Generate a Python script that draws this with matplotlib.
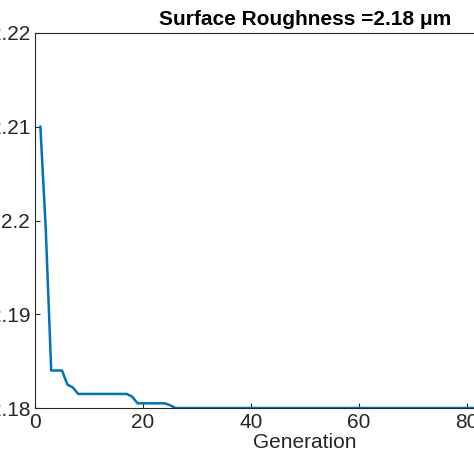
import matplotlib
matplotlib.use('Agg')
from matplotlib import pyplot as plt
import numpy as np

plt.rcParams['font.family'] = ['Liberation Sans', 'DejaVu Sans']

# best fitness per generation
generations = np.arange(1, 101)
fitness = [2.2100, 2.1990, 2.1840, 2.1840, 2.1840, 2.1825, 2.1822, 2.1815, 2.1815, 2.1815,
           2.1815, 2.1815, 2.1815, 2.1815, 2.1815, 2.1815, 2.1815, 2.1812, 2.1805, 2.1805,
           2.1805, 2.1805, 2.1805, 2.1805, 2.1803] + [2.1800] * 75
y_ticks = [2.18, 2.19, 2.20, 2.21, 2.22]
y_labels = ['2.18', '2.19', '2.2', '2.21', '2.22']

fig = plt.figure(figsize=(4.74, 4.74), dpi=100)
ax = fig.add_axes([35 / 474, 66 / 474, 540 / 474, 375 / 474])
ax.plot(generations, fitness, color='#0072BD', linewidth=1.8)
ax.set_xlim(0, 100)
ax.set_ylim(2.18, 2.22)
ax.set_yticks(y_ticks)
ax.set_yticklabels(y_labels)
ax.set_xticks([0, 20, 40, 60, 80, 100])
ax.tick_params(direction='in', labelsize=15, colors='#262626')
ax.set_xlabel('Generation', fontsize=15, color='#262626', labelpad=1)
ax.set_title('Surface Roughness =2.18 \u03bcm', fontsize=15, fontweight='bold')
for s in ax.spines.values():
    s.set_color('#262626')

fig.savefig('out.png', dpi=100)
